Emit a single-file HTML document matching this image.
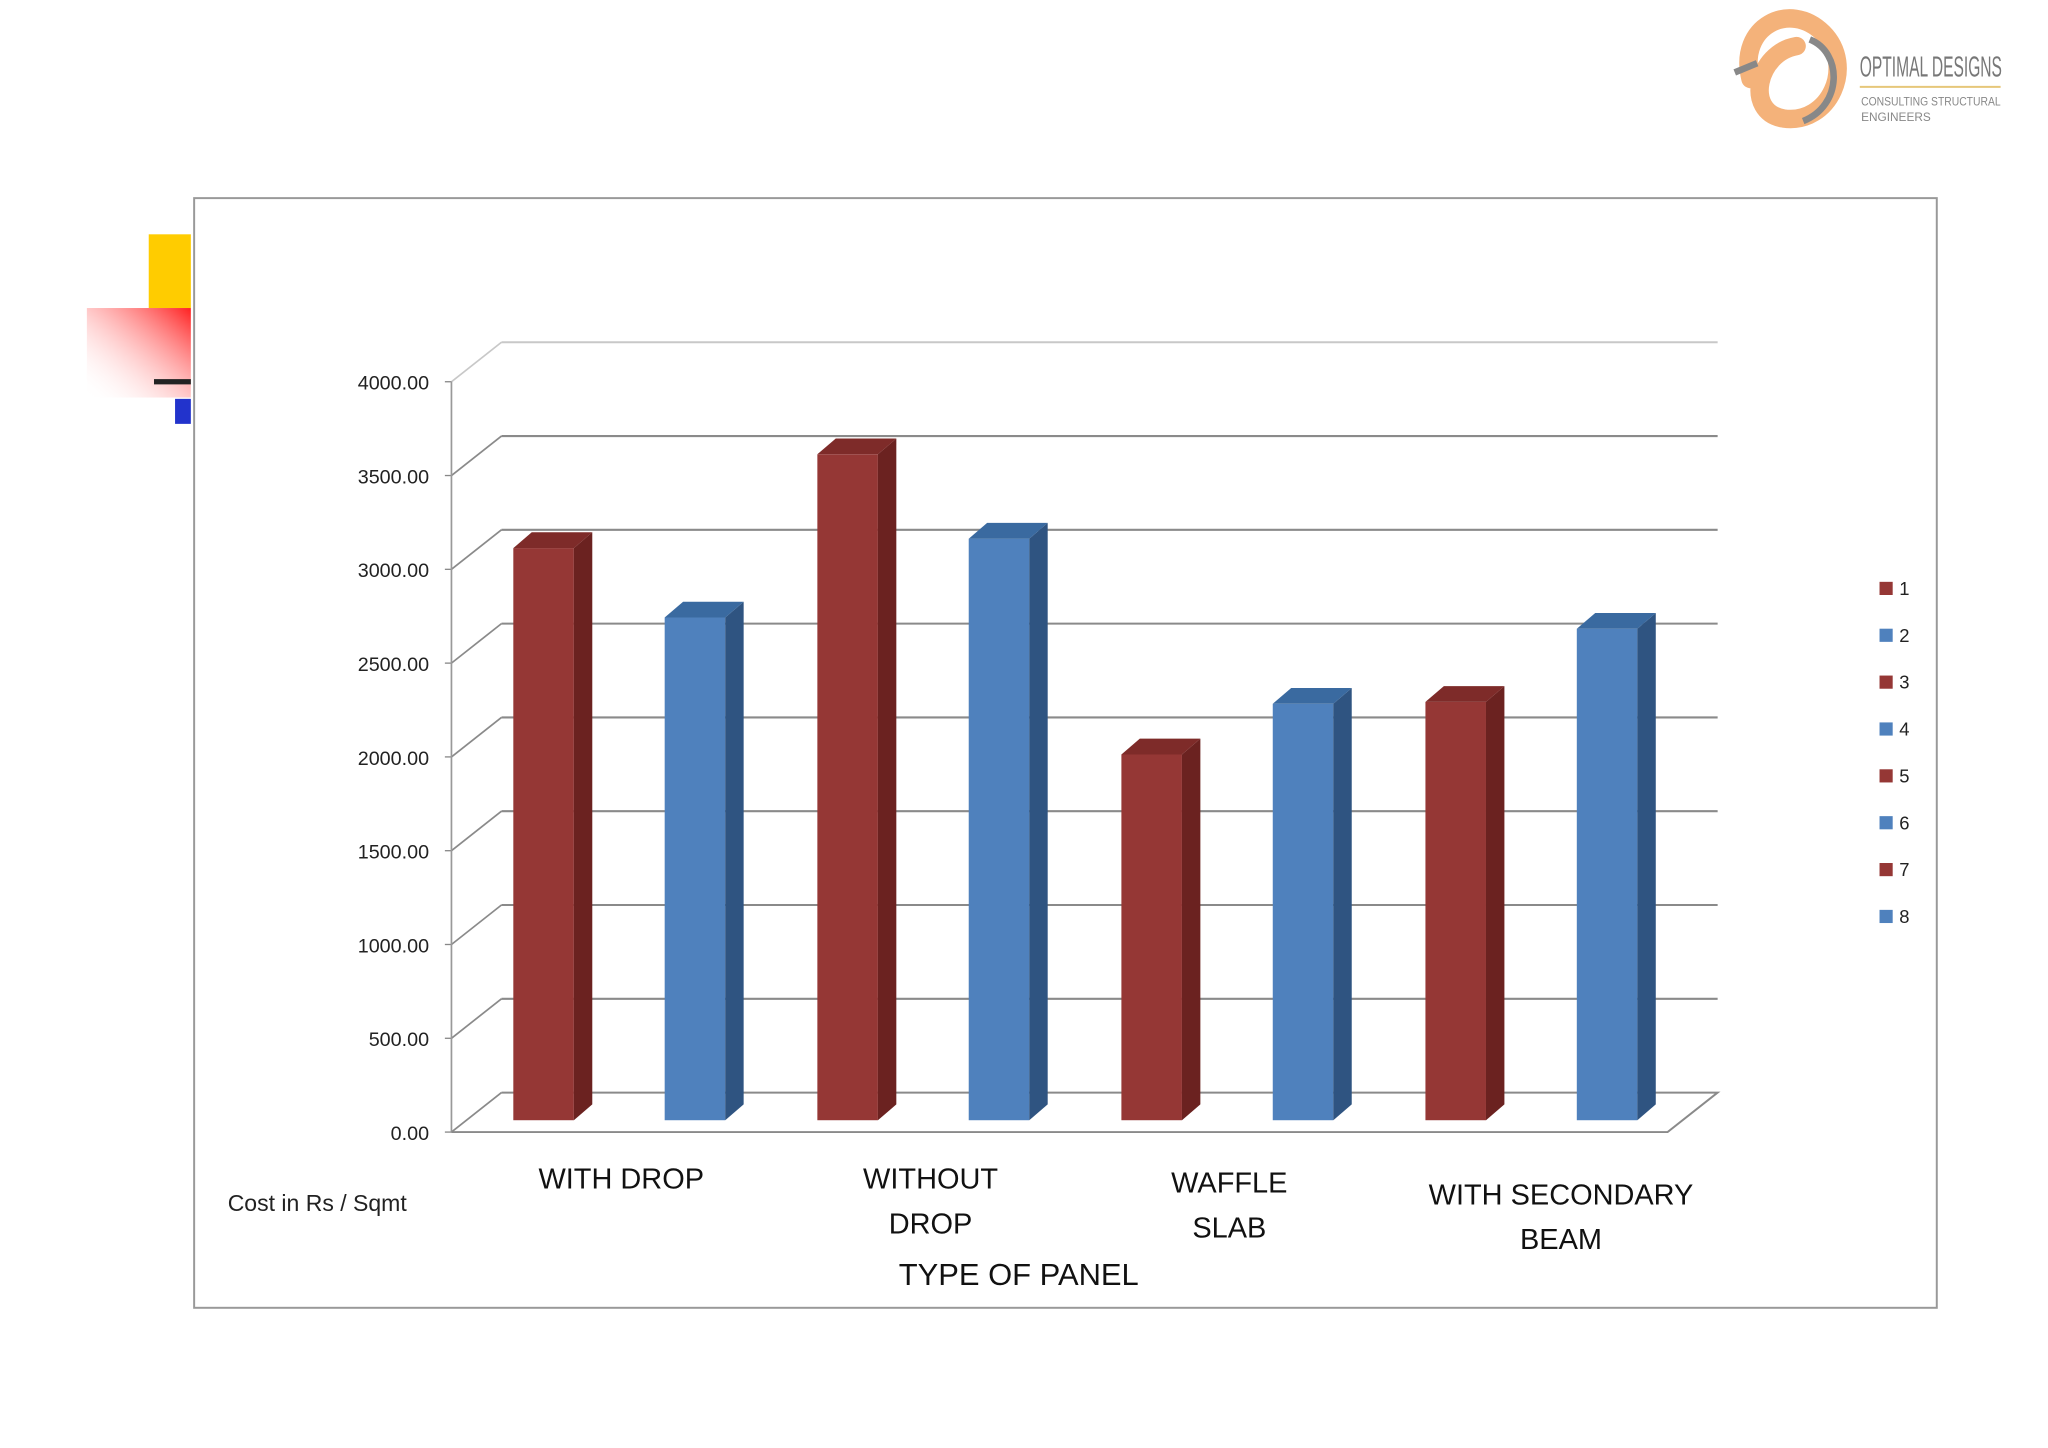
<!DOCTYPE html>
<html><head><meta charset="utf-8"><style>
html,body{margin:0;padding:0;background:#fff;}
svg{display:block;}
text{font-family:"Liberation Sans Narrow","Liberation Sans",sans-serif;}
</style></head><body>
<svg id="chart" width="2048" height="1448" viewBox="0 0 1556 1100" preserveAspectRatio="none" xmlns="http://www.w3.org/2000/svg">
<defs>
<linearGradient id="redgrad" x1="1" y1="0" x2="0" y2="1">
<stop offset="0" stop-color="#ff2020"/><stop offset="1" stop-color="#ffffff" stop-opacity="0"/>
</linearGradient>
</defs>
<rect x="0" y="0" width="1556" height="1100" fill="#fff"/>
<g>
<rect x="113" y="178" width="32" height="56" fill="#ffcc00"/>
<rect x="66" y="234" width="79" height="68" fill="url(#redgrad)"/>
<rect x="117" y="288" width="28" height="4" fill="#222"/>
<rect x="133" y="303" width="12" height="19" fill="#2233cc"/>
</g>
<g>
<path d="M1330 60 C1320 20 1360 0 1385 25 C1410 50 1390 95 1355 90 C1325 85 1335 40 1365 35" fill="none" stroke="#f4b27a" stroke-width="14" stroke-linecap="round"/>
<path d="M1318 55 L1335 48 M1375 30 C1400 40 1400 80 1370 92" fill="none" stroke="#888" stroke-width="5"/>
<text x="1413" y="58" font-size="22" fill="#777" textLength="108" lengthAdjust="spacingAndGlyphs">OPTIMAL DESIGNS</text>
<line x1="1413" y1="66" x2="1520" y2="66" stroke="#e6c77a" stroke-width="1.5"/>
<text x="1414" y="80" font-size="9" fill="#888" textLength="106" lengthAdjust="spacingAndGlyphs">CONSULTING STRUCTURAL</text>
<text x="1414" y="92" font-size="9" fill="#888">ENGINEERS</text>
</g>
<rect x="147.5" y="150.5" width="1324" height="843" fill="#fff" stroke="#999" stroke-width="1.5"/>
<g id="grid"></g>
<g id="yticks"></g>
<g id="bars"></g>
<g id="xlabels"></g>
<text x="173" y="920" font-size="17.5" fill="#222">Cost in Rs / Sqmt</text>
<text x="774" y="976" font-size="23.5" fill="#111" text-anchor="middle">TYPE OF PANEL</text>
<g id="legend"></g>
</svg>
<script>
const categories = [["WITH DROP"],["WITHOUT","DROP"],["WAFFLE","SLAB"],["WITH  SECONDARY","BEAM"]];
const seriesA = [3050, 3550, 1950, 2230];
const seriesB = [2680, 3100, 2220, 2620];
const yTicks = [0,500,1000,1500,2000,2500,3000,3500,4000];
const yTickLabels = ["0.00","500.00","1000.00","1500.00","2000.00","2500.00","3000.00","3500.00","4000.00"];
const legendLabels = ["1","2","3","4","5","6","7","8"];

const NS="http://www.w3.org/2000/svg";
const frontX0=343, frontX1=1267, zeroY=860, depthX=38, depthY=-30, maxV=4000, pxRange=570;
function yFront(v){return zeroY - v/maxV*pxRange;}
function catX(i){return frontX0 + i*(frontX1-frontX0)/categories.length;}
function mk(tag,attrs,parent){const e=document.createElementNS(NS,tag);for(const k in attrs)e.setAttribute(k,attrs[k]);parent.appendChild(e);return e;}

const grid=document.getElementById('grid');
yTicks.forEach((v,i)=>{
  const yf=yFront(v), yb=yf+depthY;
  const c = i===yTicks.length-1 ? '#c8c8c8' : '#8a8a8a';
  const g=mk('g',{},grid);
  
  
  mk('line',{x1:frontX0,y1:yf,x2:frontX0+depthX,y2:yb,stroke:c,'stroke-width':1.3},g);
  if(i>0) mk('line',{x1:frontX0+depthX,y1:yb,x2:frontX1+depthX,y2:yb,stroke:c,'stroke-width':1.6},g);
  mk('line',{x1:frontX0-5,y1:yf,x2:frontX0,y2:yf,stroke:'#888','stroke-width':1},g);
});
mk('line',{x1:frontX0,y1:yFront(0),x2:frontX0,y2:yFront(maxV),stroke:'#999','stroke-width':1.3},grid);
mk('polyline',{points:`${frontX0},${zeroY} ${frontX1},${zeroY} ${frontX1+depthX},${zeroY+depthY} ${frontX0+depthX},${zeroY+depthY}`,fill:'none',stroke:'#8a8a8a','stroke-width':1.5},grid);

const yt=document.getElementById('yticks');
yTicks.forEach((v,i)=>{
  const t=mk('text',{x:326,y:yFront(v)+6,'font-size':15,fill:'#222','text-anchor':'end'},yt);
  t.textContent=yTickLabels[i];
  
  
});

const bars=document.getElementById('bars');
const bw=46, sx=14, sy=-12, baseY=851;
function bar(x,v,front,side,top,name){
  const h=v/maxV*pxRange, yt=baseY-h;
  const g=mk('g',{},bars);
  
  
  mk('rect',{x:x,y:yt,width:bw,height:h,fill:front},g);
  mk('polygon',{points:`${x+bw},${yt} ${x+bw+sx},${yt+sy} ${x+bw+sx},${baseY+sy} ${x+bw},${baseY}`,fill:side},g);
  mk('polygon',{points:`${x},${yt} ${x+sx},${yt+sy} ${x+bw+sx},${yt+sy} ${x+bw},${yt}`,fill:top},g);
}
categories.forEach((c,i)=>{
  const cx=catX(i);
  bar(cx+47,seriesA[i],'#953735','#6b2220','#7e2b29','bar-red-'+(i+1));
  bar(cx+162,seriesB[i],'#4f81bd','#2f5481','#3a6aa0','bar-blue-'+(i+1));
});

const xl=document.getElementById('xlabels');
const labelY=[895,895,898,907];
const labelX=[472,707,934,1186];
categories.forEach((lines,i)=>{
  lines.forEach((ln,j)=>{
    const t=mk('text',{x:labelX[i],y:labelY[i]+8+j*34,'font-size':22,fill:'#111','text-anchor':'middle'},xl);
    t.textContent=ln;
    
    
  });
});

const lg=document.getElementById('legend');
legendLabels.forEach((l,i)=>{
  const y=447+i*35.6;
  const g=mk('g',{},lg);
  
  
  mk('rect',{x:1428,y:y-5,width:10,height:10,fill:i%2===0?'#953735':'#4f81bd'},g);
  const t=mk('text',{x:1443,y:y+5,'font-size':14,fill:'#222'},g);
  t.textContent=l;
});
</script>
</body></html>
